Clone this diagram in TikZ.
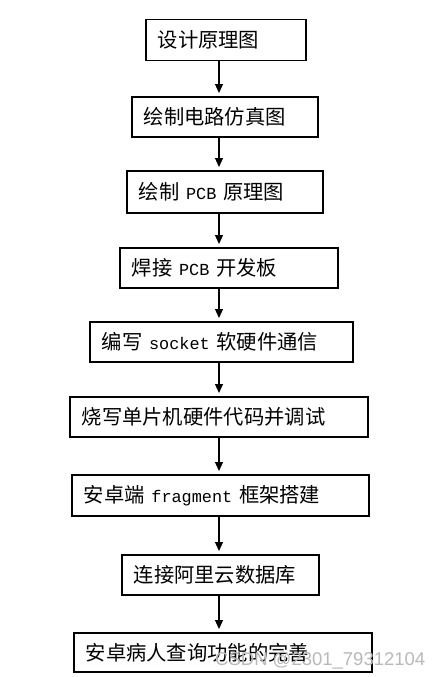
\documentclass[tikz,border=0pt]{standalone}
\usepackage{fontspec}
\newfontfamily\cjk{Noto Sans CJK SC}
\newfontfamily\mono[Scale=0.83]{Liberation Mono}
\newfontfamily\wmfont{Liberation Sans}
\usetikzlibrary{arrows.meta}
\begin{document}
\begin{tikzpicture}[x=1pt,y=-1pt,
  box/.style={draw=black, line width=1.5pt, anchor=north west, inner xsep=12pt, inner ysep=0pt,
    align=left, font=\cjk\fontsize{20.3}{23}\selectfont},
  arr/.style={draw=black, line width=1.2pt, -{Triangle[length=9pt,width=8pt]}, shorten >=3pt}]
\useasboundingbox (0,0) rectangle (445,677);
\fill[white] (0,0) rectangle (445,677);
\coordinate (ax) at (219,0);
\node[box, minimum height=41pt, text width=136pt] (b1) at (145,19) {设计原理图};
\node[box, minimum height=40pt, text width=162pt] (b2) at (131,96) {绘制电路仿真图};
\node[box, minimum height=42pt, text width=172pt] (b3) at (126,170) {绘制 {\mono PCB} 原理图};
\node[box, minimum height=40pt, text width=194pt] (b4) at (119,247) {焊接 {\mono PCB} 开发板};
\node[box, minimum height=40pt, text width=239pt] (b5) at (89,321) {编写 {\mono socket} 软硬件通信};
\node[box, minimum height=40pt, text width=274pt] (b6) at (69,396) {烧写单片机硬件代码并调试};
\node[box, minimum height=41pt, text width=273pt] (b7) at (71,474) {安卓端 {\mono fragment} 框架搭建};
\node[box, minimum height=40pt, text width=173pt] (b8) at (121,554) {连接阿里云数据库};
\node[box, minimum height=39pt, text width=274pt] (b9) at (73,632) {安卓病人查询功能的完善};
\foreach \a/\b in {b1/b2,b2/b3,b3/b4,b4/b5,b5/b6,b6/b7,b7/b8,b8/b9}
  \draw[arr] (\a.south -| ax) -- (\b.north -| ax);
\node[anchor=base west, inner sep=0pt, text=gray!55, font=\wmfont\fontsize{18.5}{20}\selectfont] (wm) at (215,665) {CSDN @2301\_79312104};
\end{tikzpicture}
\end{document}
